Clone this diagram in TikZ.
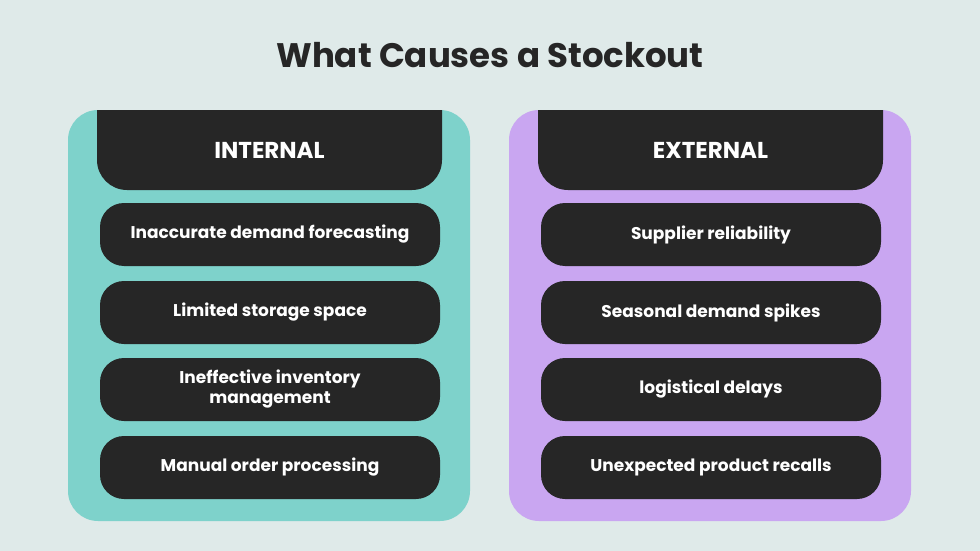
\documentclass[tikz,border=0pt]{standalone}
\usepackage{fontspec}
\setmainfont{Poppins}
\definecolor{bg}{HTML}{DFEAE9}
\definecolor{dark}{HTML}{262626}
\definecolor{teal}{HTML}{7ED2CB}
\definecolor{purp}{HTML}{C9A6F1}
\tikzset{
 panel/.style={rounded corners=30pt},
 item/.style={fill=dark,rounded corners=24pt,minimum width=340pt,minimum height=63pt,text=white,font=\bfseries\fontsize{17}{20}\selectfont,align=center,inner sep=0pt},
 head/.style={text=white,font=\bfseries\fontsize{23}{26}\selectfont}
}
\begin{document}
\begin{tikzpicture}[x=1pt,y=-1pt]
\fill[bg] (0,0) rectangle (980,551);
\node[font=\bfseries\fontsize{34}{38}\selectfont,text=dark] (title) at (490,55) {What Causes a Stockout};
% left
\fill[teal,panel] (68,110) rectangle (470,521);
\fill[dark] (97,110) -- (442,110) [rounded corners=30pt]-- (442,190) -- (97,190) [sharp corners]-- (97,110) -- cycle;
\node[head] (int) at (269.5,150) {INTERNAL};
\node[item] (l1) at (270,234.5) {Inaccurate demand forecasting};
\node[item] (l2) at (270,312.5) {Limited storage space};
\node[item] (l3) at (270,389.5) {Ineffective inventory\\management};
\node[item] (l4) at (270,467.5) {Manual order processing};
% right
\fill[purp,panel] (509,110) rectangle (911,521);
\fill[dark] (538,110) -- (883,110) [rounded corners=30pt]-- (883,190) -- (538,190) [sharp corners]-- (538,110) -- cycle;
\node[head] (ext) at (710.5,150) {EXTERNAL};
\node[item] (r1) at (711,234.5) {Supplier reliability};
\node[item] (r2) at (711,312.5) {Seasonal demand spikes};
\node[item] (r3) at (711,389.5) {logistical delays};
\node[item] (r4) at (711,467.5) {Unexpected product recalls};
\end{tikzpicture}
\end{document}
